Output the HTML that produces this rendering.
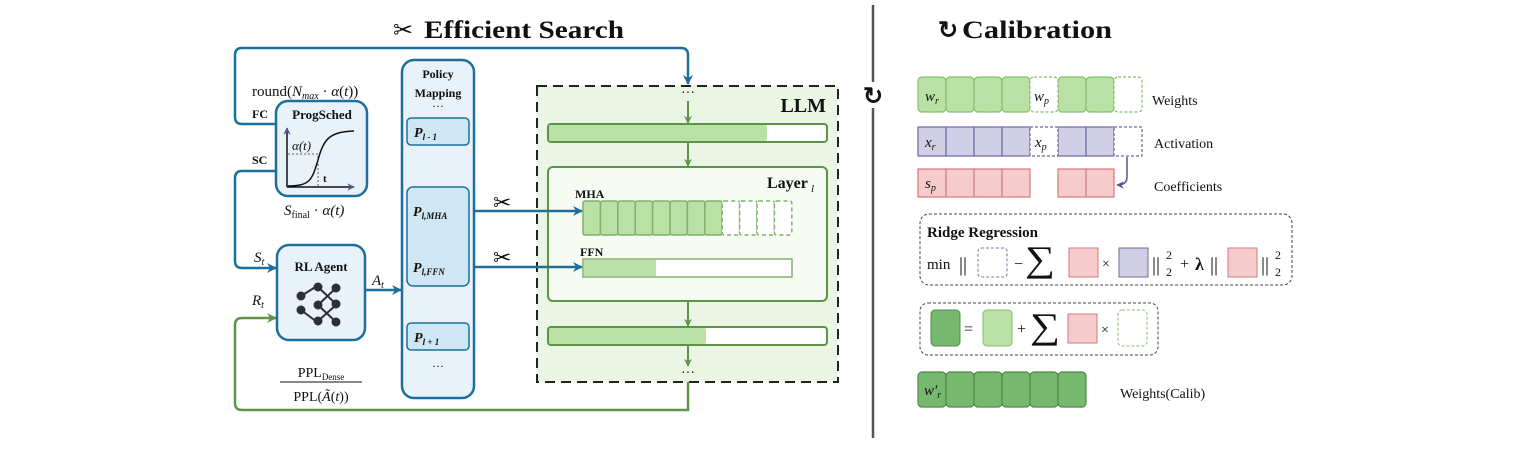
<!DOCTYPE html>
<html><head><meta charset="utf-8"><style>
html,body{margin:0;padding:0;background:#fff;}
svg{display:block;}
text{font-family:"Liberation Serif",serif;}
.b{font-weight:bold;}
.i{font-style:italic;}
</style></head><body>
<svg width="1521" height="473" viewBox="0 0 1521 473" xmlns="http://www.w3.org/2000/svg">
<defs>
<marker id="ab" viewBox="0 0 10 10" refX="9" refY="5" markerWidth="4" markerHeight="4" orient="auto"><path d="M0,0 L10,5 L0,10 L3,5z" fill="#1d6f9c"/></marker>
<marker id="ag" viewBox="0 0 10 10" refX="9" refY="5" markerWidth="4" markerHeight="4" orient="auto"><path d="M0,0 L10,5 L0,10 L3,5z" fill="#5e9448"/></marker>
<marker id="ap" viewBox="0 0 10 10" refX="9" refY="5" markerWidth="5" markerHeight="5" orient="auto"><path d="M0,0 L10,5 L0,10 L3,5z" fill="#5a5290"/></marker>
</defs>

<!-- titles -->
<text x="393" y="38" font-size="24" font-family="DejaVu Sans" fill="#111">✂</text>
<text x="424" y="38" font-size="25" class="b" fill="#111" textLength="200" lengthAdjust="spacingAndGlyphs">Efficient Search</text>
<text x="938" y="38" font-size="24" font-family="DejaVu Sans" class="b" fill="#111">↻</text>
<text x="962" y="38" font-size="25" class="b" fill="#111" textLength="150" lengthAdjust="spacingAndGlyphs">Calibration</text>

<!-- divider -->
<line x1="873" y1="5" x2="873" y2="438" stroke="#555" stroke-width="2.5"/>
<rect x="862" y="82" width="24" height="26" fill="#fff"/>
<text x="863" y="104" font-size="24" font-family="DejaVu Sans" class="b" fill="#111">↻</text>

<!-- LLM box -->
<rect x="537" y="86" width="301" height="296" fill="#eaf5e4" stroke="#222" stroke-width="2" stroke-dasharray="10,6"/>
<text x="826" y="112" font-size="20" class="b" text-anchor="end" fill="#111">LLM</text>
<text x="688" y="97" font-size="14" text-anchor="middle" fill="#111">···</text>
<text x="688" y="377" font-size="14" text-anchor="middle" fill="#111">···</text>

<!-- bars -->
<rect x="548" y="124" width="279" height="18" rx="3" fill="#fff" stroke="#5e9448" stroke-width="2"/>
<rect x="549" y="125" width="218" height="16" rx="2" fill="#b9e0a5"/>
<rect x="548" y="167" width="279" height="134" rx="5" fill="#f6fbf3" stroke="#5e9448" stroke-width="2"/>
<text x="767" y="188" font-size="16" class="b" fill="#111">Layer</text><text x="811" y="192" font-size="11" class="i" fill="#111">l</text>
<text x="575" y="198" font-size="12" class="b" fill="#111">MHA</text>
<g stroke="#7fb26a" stroke-width="1.5">
<rect x="583" y="201" width="17.4" height="34" rx="2" fill="#b9e0a5"/>
<rect x="600.4" y="201" width="17.4" height="34" rx="2" fill="#b9e0a5"/>
<rect x="617.8" y="201" width="17.4" height="34" rx="2" fill="#b9e0a5"/>
<rect x="635.2" y="201" width="17.4" height="34" rx="2" fill="#b9e0a5"/>
<rect x="652.6" y="201" width="17.4" height="34" rx="2" fill="#b9e0a5"/>
<rect x="670" y="201" width="17.4" height="34" rx="2" fill="#b9e0a5"/>
<rect x="687.4" y="201" width="17.4" height="34" rx="2" fill="#b9e0a5"/>
<rect x="704.8" y="201" width="17.4" height="34" rx="2" fill="#b9e0a5"/>
<g stroke-dasharray="4,3" fill="#fff">
<rect x="722.2" y="201" width="17.4" height="34" rx="2"/>
<rect x="739.6" y="201" width="17.4" height="34" rx="2"/>
<rect x="757" y="201" width="17.4" height="34" rx="2"/>
<rect x="774.4" y="201" width="17.4" height="34" rx="2"/>
</g></g>
<text x="580" y="256" font-size="12" class="b" fill="#111">FFN</text>
<rect x="583" y="259" width="209" height="18" fill="#fff" stroke="#7fb26a" stroke-width="1.5"/>
<rect x="584" y="260" width="72" height="16" fill="#b9e0a5"/>
<rect x="548" y="327" width="279" height="18" rx="3" fill="#fff" stroke="#5e9448" stroke-width="2"/>
<rect x="549" y="328" width="157" height="16" rx="2" fill="#b9e0a5"/>

<g stroke="#5e9448" stroke-width="2" fill="none" marker-end="url(#ag)">
<line x1="688" y1="101" x2="688" y2="123"/>
<line x1="688" y1="142" x2="688" y2="166"/>
<line x1="688" y1="301" x2="688" y2="326"/>
<line x1="688" y1="345" x2="688" y2="366"/>
</g>
<path d="M688,382 V410 H242 Q235,410 235,403 V325 Q235,318 242,318 H276" stroke="#5e9448" stroke-width="2.5" fill="none" marker-end="url(#ag)"/>

<!-- blue loops -->
<path d="M276,124 H242 Q235,124 235,117 V55 Q235,48 242,48 H681 Q688,48 688,55 V84" stroke="#1d6f9c" stroke-width="2.5" fill="none" marker-end="url(#ab)"/>
<path d="M276,171 H242 Q235,171 235,178 V261 Q235,268 242,268 H276" stroke="#1d6f9c" stroke-width="2.5" fill="none" marker-end="url(#ab)"/>
<line x1="365" y1="290" x2="401" y2="290" stroke="#1d6f9c" stroke-width="2.5" marker-end="url(#ab)"/>
<line x1="469" y1="211" x2="582" y2="211" stroke="#1d6f9c" stroke-width="2.5" marker-end="url(#ab)"/>
<line x1="469" y1="267" x2="582" y2="267" stroke="#1d6f9c" stroke-width="2.5" marker-end="url(#ab)"/>
<text x="493" y="210" font-size="22" font-family="DejaVu Sans" fill="#111">✂</text>
<text x="493" y="265" font-size="22" font-family="DejaVu Sans" fill="#111">✂</text>

<!-- ProgSched -->
<text x="252" y="96" font-size="15" fill="#111">round(<tspan class="i">N</tspan><tspan class="i" font-size="10" dy="3">max</tspan><tspan dy="-3"> · </tspan><tspan class="i">α</tspan>(<tspan class="i">t</tspan>))</text>
<text x="252" y="118" font-size="12" class="b" fill="#111">FC</text>
<text x="252" y="164" font-size="12" class="b" fill="#111">SC</text>
<rect x="276" y="101" width="91" height="95" rx="12" fill="#e9f2f9" stroke="#1d6f9c" stroke-width="2.5"/>
<text x="322" y="119" font-size="13" class="b" text-anchor="middle" fill="#111">ProgSched</text>
<line x1="287" y1="187" x2="354" y2="187" stroke="#111" stroke-width="1.5" marker-end="url(#ap)"/>
<line x1="287" y1="187" x2="287" y2="128" stroke="#111" stroke-width="1.5" marker-end="url(#ap)"/>
<path d="M288,186 C310,186 312,180 318,160 C324,138 330,132 354,131" stroke="#111" stroke-width="1.5" fill="none"/>
<path d="M288,154 H318 V186" stroke="#333" stroke-width="0.8" stroke-dasharray="2,2" fill="none"/>
<text x="292" y="150" font-size="13" class="i" fill="#111">α(t)</text>
<text x="323" y="182" font-size="11" class="b" fill="#111">t</text>
<text x="284" y="215" font-size="15" class="i" fill="#111">S<tspan font-style="normal" font-size="10" dy="3">final</tspan><tspan font-style="normal" dy="-3"> · </tspan>α(t)</text>

<!-- RL Agent -->
<text x="254" y="262" font-size="15" class="i" fill="#111">S<tspan font-size="10" dy="3">t</tspan></text>
<text x="252" y="305" font-size="15" class="i" fill="#111">R<tspan font-size="10" dy="3">t</tspan></text>
<text x="372" y="285" font-size="15" class="i" fill="#111">A<tspan font-size="10" dy="3">t</tspan></text>
<rect x="277" y="245" width="88" height="95" rx="12" fill="#e9f2f9" stroke="#1d6f9c" stroke-width="2.5"/>
<text x="321" y="271" font-size="13" class="b" text-anchor="middle" fill="#111">RL Agent</text>
<g stroke="#2a2f3a" stroke-width="2" fill="#2a2f3a">
<line x1="301" y1="296" x2="317" y2="286"/><line x1="301" y1="310" x2="317" y2="322"/>
<line x1="318" y1="287" x2="336" y2="304"/><line x1="318" y1="305" x2="336" y2="288"/>
<line x1="318" y1="305" x2="336" y2="322"/><line x1="318" y1="321" x2="336" y2="305"/>
<circle cx="301" cy="296" r="3.5"/><circle cx="301" cy="310" r="3.5"/>
<circle cx="318" cy="287" r="3.5"/><circle cx="318" cy="305" r="3.5"/><circle cx="318" cy="321" r="3.5"/>
<circle cx="336" cy="288" r="3.5"/><circle cx="336" cy="304" r="3.5"/><circle cx="336" cy="322" r="3.5"/>
</g>
<text x="321" y="377" font-size="14" text-anchor="middle" fill="#111">PPL<tspan font-size="9" dy="3">Dense</tspan></text>
<line x1="280" y1="382" x2="362" y2="382" stroke="#111" stroke-width="1"/>
<text x="321" y="401" font-size="14" text-anchor="middle" fill="#111">PPL(<tspan class="i">Ã</tspan>(<tspan class="i">t</tspan>))</text>

<!-- Policy mapping -->
<rect x="402" y="60" width="72" height="338" rx="12" fill="#e9f2f9" stroke="#1d6f9c" stroke-width="2.5"/>
<text x="438" y="78" font-size="12" class="b" text-anchor="middle" fill="#111">Policy</text>
<text x="438" y="97" font-size="12" class="b" text-anchor="middle" fill="#111">Mapping</text>
<text x="438" y="110" font-size="12" text-anchor="middle" fill="#111">···</text>
<rect x="407" y="118" width="62" height="27" rx="4" fill="#cfe7f4" stroke="#1d6f9c" stroke-width="1.5"/>
<text x="414" y="137" font-size="14" class="b i" fill="#111">P<tspan font-size="9" dy="3">l - 1</tspan></text>
<rect x="407" y="187" width="62" height="99" rx="6" fill="#cfe7f4" stroke="#1d6f9c" stroke-width="1.5"/>
<text x="413" y="216" font-size="14" class="b i" fill="#111">P<tspan font-size="9" dy="3">l,MHA</tspan></text>
<text x="413" y="272" font-size="14" class="b i" fill="#111">P<tspan font-size="9" dy="3">l,FFN</tspan></text>
<rect x="407" y="323" width="62" height="27" rx="4" fill="#cfe7f4" stroke="#1d6f9c" stroke-width="1.5"/>
<text x="414" y="342" font-size="14" class="b i" fill="#111">P<tspan font-size="9" dy="3">l + 1</tspan></text>
<text x="438" y="370" font-size="12" text-anchor="middle" fill="#111">···</text>

<!-- Calibration right -->
<g stroke-width="1.2">
<g stroke="#85be6f" fill="#b9e0a5">
<rect x="918" y="77" width="28" height="35" rx="4"/><rect x="946" y="77" width="28" height="35" rx="4"/>
<rect x="974" y="77" width="28" height="35" rx="4"/><rect x="1002" y="77" width="28" height="35" rx="4"/>
<rect x="1058" y="77" width="28" height="35" rx="4"/><rect x="1086" y="77" width="28" height="35" rx="4"/>
<rect x="1030" y="77" width="28" height="35" rx="4" fill="#fff" stroke-dasharray="3,2"/>
<rect x="1114" y="77" width="28" height="35" rx="4" fill="#fff" stroke-dasharray="3,2"/>
</g>
<g stroke="#6e68a0" fill="#d1cfe5">
<rect x="918" y="127" width="28" height="29"/><rect x="946" y="127" width="28" height="29"/>
<rect x="974" y="127" width="28" height="29"/><rect x="1002" y="127" width="28" height="29"/>
<rect x="1058" y="127" width="28" height="29"/><rect x="1086" y="127" width="28" height="29"/>
<rect x="1030" y="127" width="28" height="29" fill="#fff" stroke-dasharray="3,2"/>
<rect x="1114" y="127" width="28" height="29" fill="#fff" stroke-dasharray="3,2"/>
</g>
<g stroke="#d6787b" fill="#f6cbcb">
<rect x="918" y="169" width="28" height="28"/><rect x="946" y="169" width="28" height="28"/>
<rect x="974" y="169" width="28" height="28"/><rect x="1002" y="169" width="28" height="28"/>
<rect x="1058" y="169" width="28" height="28"/><rect x="1086" y="169" width="28" height="28"/>
</g>
<g stroke="#4f8a48" fill="#77b86f">
<rect x="918" y="372" width="28" height="35" rx="4"/><rect x="946" y="372" width="28" height="35" rx="4"/>
<rect x="974" y="372" width="28" height="35" rx="4"/><rect x="1002" y="372" width="28" height="35" rx="4"/>
<rect x="1030" y="372" width="28" height="35" rx="4"/><rect x="1058" y="372" width="28" height="35" rx="4"/>
</g>
</g>
<path d="M1127,157 V177 Q1127,185 1117,185" stroke="#5a5290" stroke-width="1.5" fill="none" marker-end="url(#ap)"/>
<text x="925" y="101" font-size="15" class="i" fill="#111">w<tspan font-size="10" dy="3">r</tspan></text>
<text x="1034" y="101" font-size="15" class="i" fill="#111">w<tspan font-size="10" dy="3">p</tspan></text>
<text x="925" y="147" font-size="15" class="i" fill="#111">x<tspan font-size="10" dy="3">r</tspan></text>
<text x="1035" y="147" font-size="15" class="i" fill="#111">x<tspan font-size="10" dy="3">p</tspan></text>
<text x="925" y="188" font-size="15" class="i" fill="#111">s<tspan font-size="10" dy="3">p</tspan></text>
<text x="924" y="395" font-size="15" class="i" fill="#111">w′<tspan font-size="10" dy="3">r</tspan></text>
<text x="1152" y="105" font-size="14" fill="#111">Weights</text>
<text x="1154" y="148" font-size="14" fill="#111">Activation</text>
<text x="1154" y="191" font-size="14" fill="#111">Coefficients</text>
<text x="1120" y="398" font-size="14" fill="#111">Weights(Calib)</text>

<!-- ridge regression -->
<rect x="920" y="214" width="372" height="71" rx="9" fill="none" stroke="#444" stroke-width="1" stroke-dasharray="3,2"/>
<text x="927" y="237" font-size="15" class="b" fill="#111">Ridge Regression</text>
<text x="927" y="269" font-size="15" fill="#111">min</text>
<text x="959" y="271" font-size="20" fill="#111">||</text>
<rect x="978" y="248" width="29" height="29" rx="3" fill="#fff" stroke="#7a74a8" stroke-dasharray="3,2"/>
<text x="1014" y="269" font-size="16" fill="#111">−</text>
<text x="1025" y="271" font-size="36" fill="#111" textLength="30" lengthAdjust="spacingAndGlyphs">∑</text>
<rect x="1069" y="248" width="29" height="29" fill="#f6cbcb" stroke="#d6787b"/>
<text x="1102" y="268" font-size="14" fill="#111">×</text>
<rect x="1119" y="248" width="29" height="29" fill="#d1cfe5" stroke="#6e68a0"/>
<text x="1152" y="271" font-size="20" fill="#111">||</text>
<text x="1166" y="259" font-size="12" fill="#111">2</text>
<text x="1166" y="276" font-size="12" fill="#111">2</text>
<text x="1180" y="269" font-size="16" fill="#111">+</text>
<text x="1195" y="270" font-size="18" class="b" fill="#111">λ</text>
<text x="1210" y="271" font-size="20" fill="#111">||</text>
<rect x="1228" y="248" width="29" height="29" fill="#f6cbcb" stroke="#d6787b"/>
<text x="1261" y="271" font-size="20" fill="#111">||</text>
<text x="1275" y="259" font-size="12" fill="#111">2</text>
<text x="1275" y="276" font-size="12" fill="#111">2</text>

<!-- update -->
<rect x="920" y="303" width="238" height="52" rx="8" fill="none" stroke="#444" stroke-width="1" stroke-dasharray="3,2"/>
<rect x="931" y="310" width="29" height="36" rx="4" fill="#77b86f" stroke="#4f8a48"/>
<text x="964" y="334" font-size="16" fill="#111">=</text>
<rect x="983" y="310" width="29" height="36" rx="4" fill="#b9e0a5" stroke="#85be6f"/>
<text x="1017" y="334" font-size="16" fill="#111">+</text>
<text x="1030" y="338" font-size="36" fill="#111" textLength="30" lengthAdjust="spacingAndGlyphs">∑</text>
<rect x="1068" y="314" width="29" height="29" fill="#f6cbcb" stroke="#d6787b"/>
<text x="1101" y="334" font-size="14" fill="#111">×</text>
<rect x="1118" y="310" width="29" height="36" rx="4" fill="#fff" stroke="#85be6f" stroke-dasharray="3,2"/>
</svg>
</body></html>
